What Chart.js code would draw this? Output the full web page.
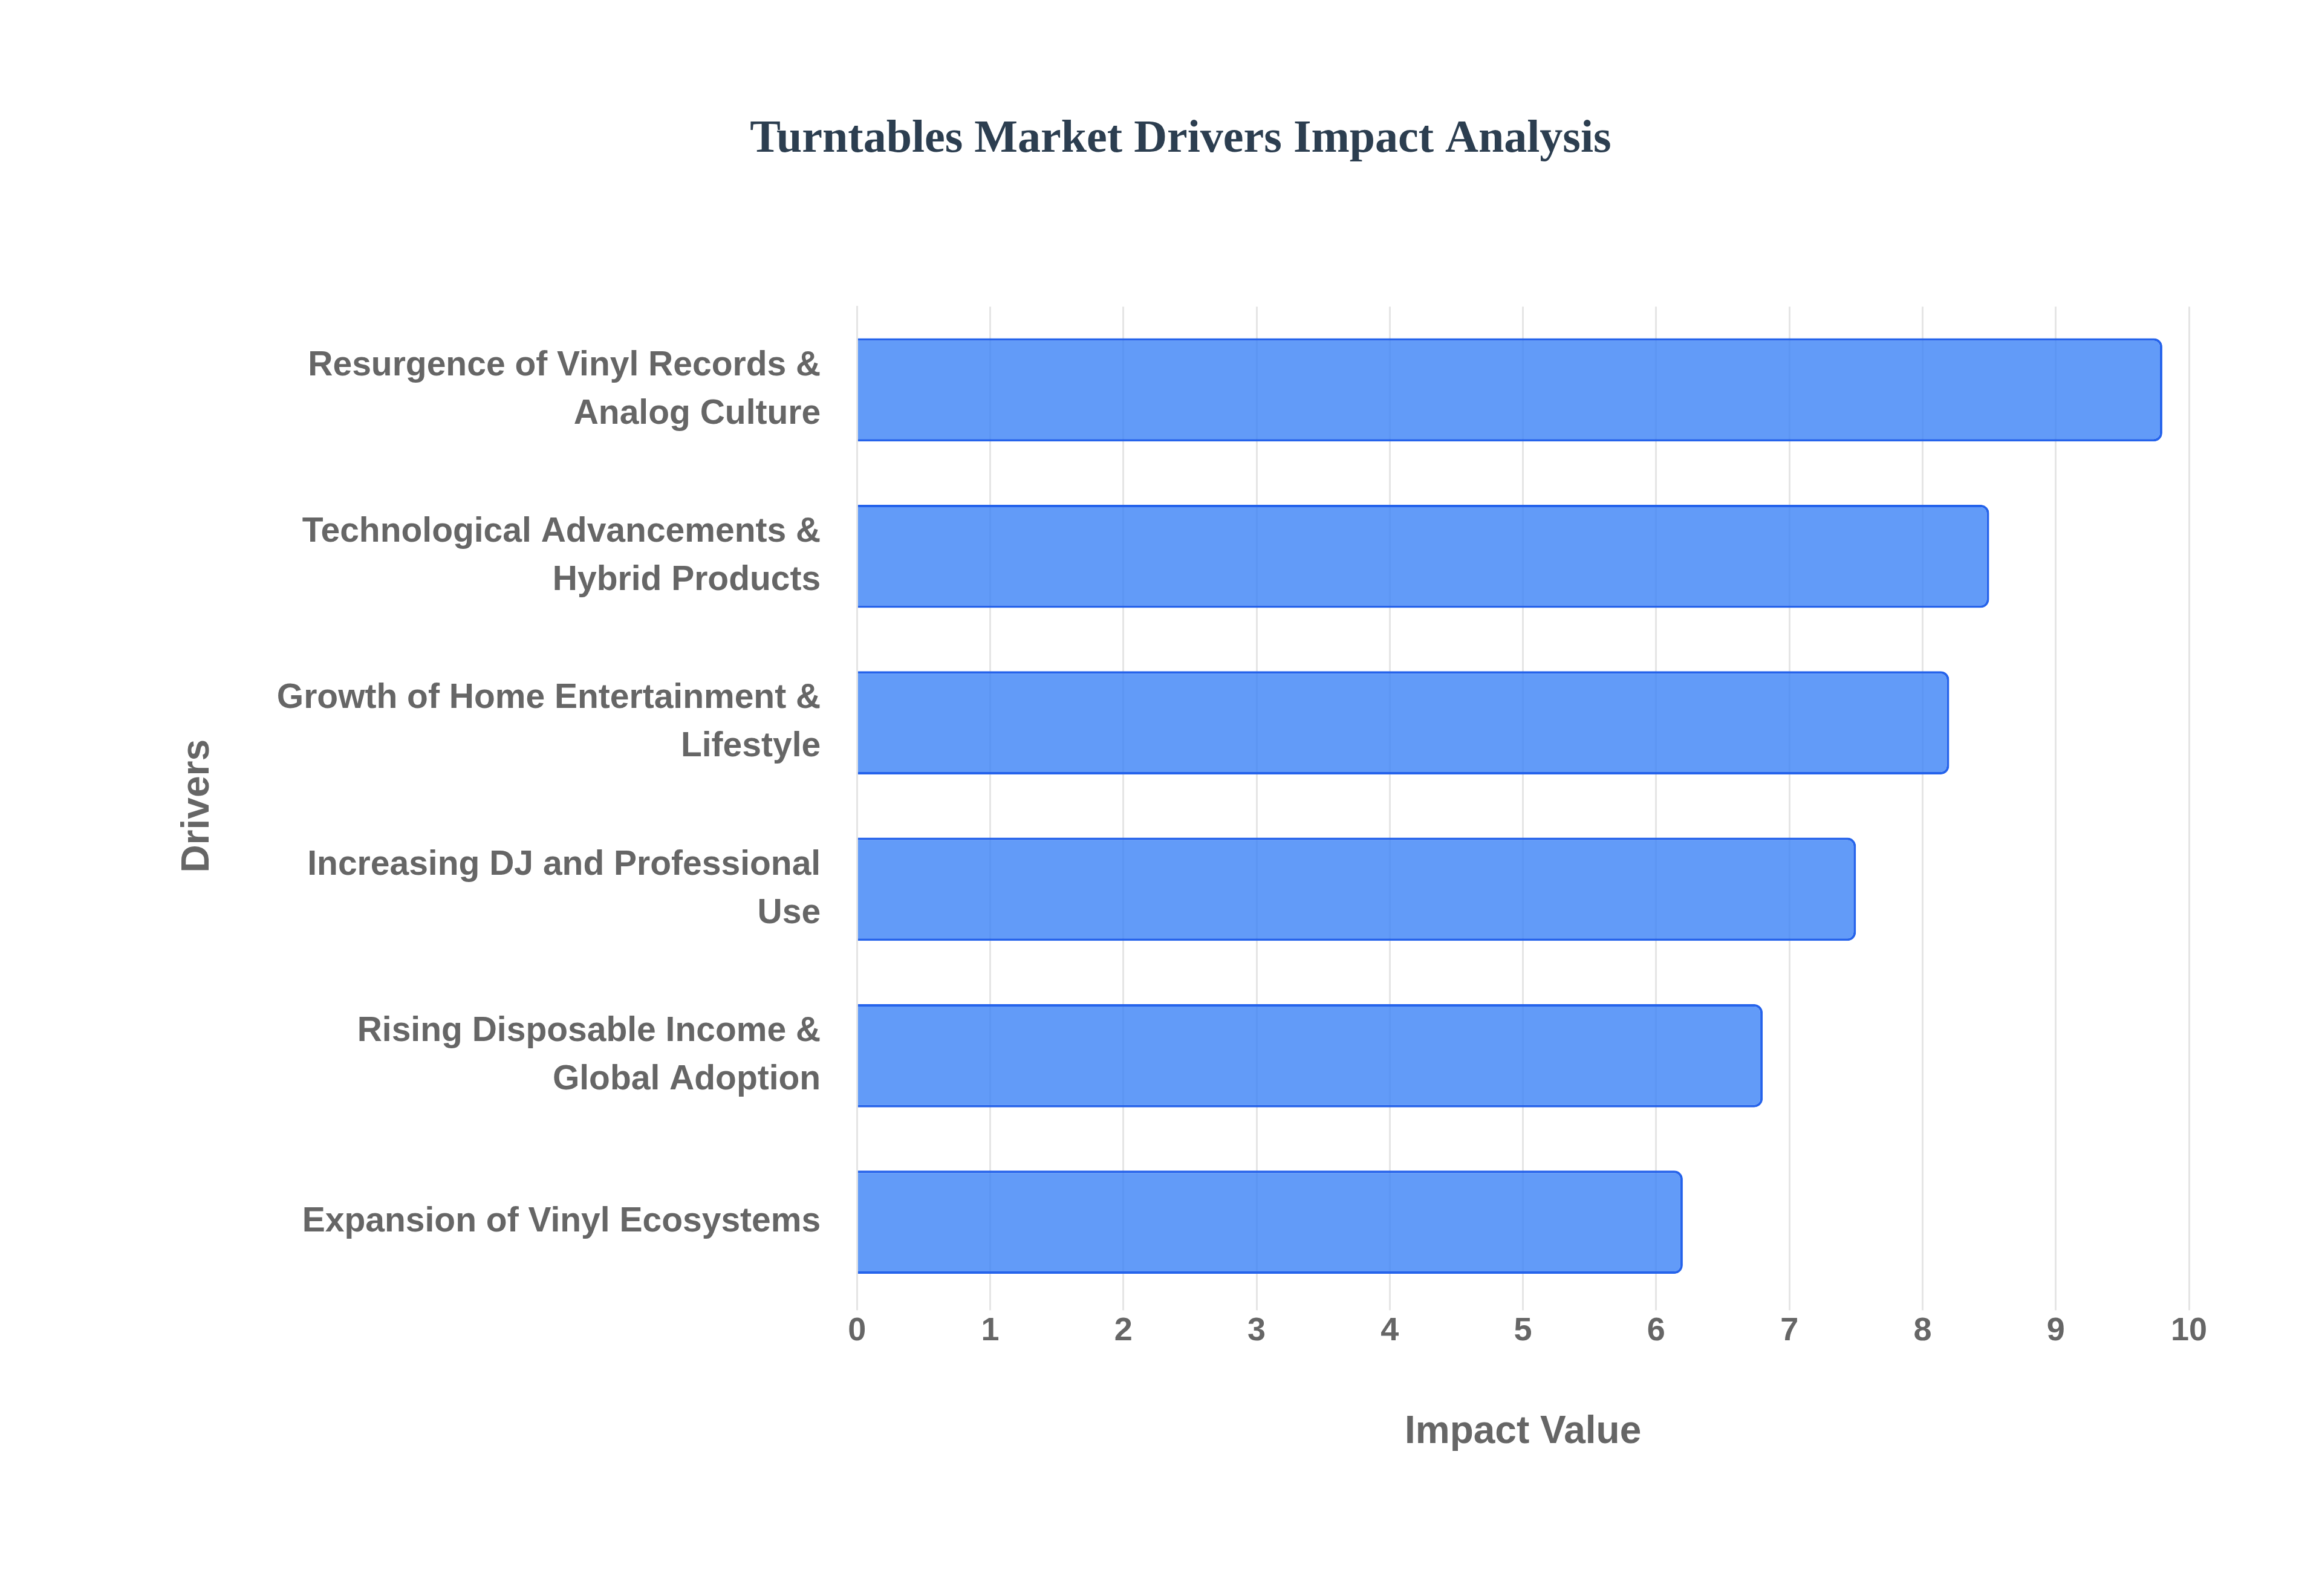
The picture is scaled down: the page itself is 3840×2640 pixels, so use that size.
<!DOCTYPE html>
<html>
<head>
<meta charset="utf-8">
<script src="https://cdn.jsdelivr.net/npm/chart.js@4"></script>
<style>
  html, body { margin: 0; padding: 0; background: #fff; }
  canvas { display: block; }
</style>
</head>
<body>
<canvas id="driversChart" width="3840" height="2640"></canvas>
<script>
// chart data
const drivers = [
  ['Resurgence of Vinyl Records &', 'Analog Culture'],
  ['Technological Advancements &', 'Hybrid Products'],
  ['Growth of Home Entertainment &', 'Lifestyle'],
  ['Increasing DJ and Professional', 'Use'],
  ['Rising Disposable Income &', 'Global Adoption'],
  'Expansion of Vinyl Ecosystems'
];
const impactValues = [9.8, 8.5, 8.2, 7.5, 6.8, 6.2];

const ctx = document.getElementById('driversChart').getContext('2d');
const chart = new Chart(ctx, {
  type: 'bar',
  data: {
    labels: drivers,
    datasets: [{
      label: 'Impact Value',
      data: impactValues,
      backgroundColor: 'rgba(59, 130, 246, 0.8)',
      borderColor: 'rgba(37, 99, 235, 1)',
      borderWidth: 4,
      borderRadius: 14,
      borderSkipped: 'start',
      barPercentage: 0.62,
      categoryPercentage: 1
    }]
  },
  options: {
    indexAxis: 'y',
    responsive: false,
    animation: false,
    devicePixelRatio: 1,
    layout: { padding: { left: 285, right: 220, top: 186, bottom: 228 } },
    plugins: {
      legend: { display: false },
      title: {
        display: true,
        text: 'Turntables Market Drivers Impact Analysis',
        color: '#2c3e50',
        font: { family: 'Liberation Serif', size: 76, weight: 'bold' },
        padding: { top: 0, bottom: 230 }
      }
    },
    scales: {
      x: {
        min: 0,
        max: 10,
        ticks: { stepSize: 1, color: '#666', padding: 2,
                 font: { family: 'Liberation Sans', size: 54, weight: 'bold' } },
        grid: { color: '#e5e5e5', lineWidth: 3 },
        border: { display: false },
        title: { display: true, text: 'Impact Value', color: '#666', padding: { top: 95 },
                 font: { family: 'Liberation Sans', size: 64, weight: 'bold' } }
      },
      y: {
        ticks: { color: '#666', padding: 52,
                 font: { family: 'Liberation Sans', size: 57, weight: 'bold', lineHeight: 1.4 } },
        grid: { display: false },
        border: { color: '#e5e5e5', width: 3 },
        title: { display: true, text: 'Drivers', color: '#666', padding: { bottom: 40 },
                 font: { family: 'Liberation Sans', size: 64, weight: 'bold' } }
      }
    }
  }
});
</script>
</body>
</html>
